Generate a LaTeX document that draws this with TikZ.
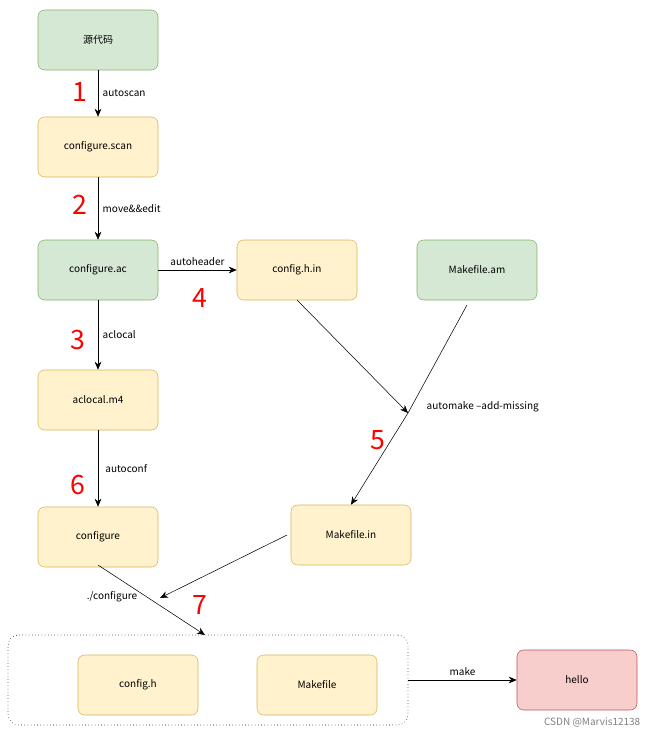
\documentclass[tikz,border=0pt]{standalone}
\usepackage{fontspec}
\setmainfont{Noto Sans CJK SC}
\usetikzlibrary{arrows.meta}
\definecolor{gf}{HTML}{D5E8D4}\definecolor{gd}{HTML}{82B366}
\definecolor{yf}{HTML}{FFF2CC}\definecolor{yd}{HTML}{D6B656}
\definecolor{rf}{HTML}{F8CECC}\definecolor{rd}{HTML}{B85450}
\begin{document}
\begin{tikzpicture}[x=0.75pt,y=-0.75pt,font=\fontsize{7.5}{9}\selectfont,
 box/.style={draw,rounded corners=5pt,minimum width=90pt,minimum height=45pt,inner sep=0pt},
 gbox/.style={box,fill=gf,draw=gd},ybox/.style={box,fill=yf,draw=yd},rbox/.style={box,fill=rf,draw=rd},
 arr/.style={-{Stealth[length=6pt,width=5pt]},black},
 num/.style={text=red,font=\fontsize{20}{20}\selectfont}]
\useasboundingbox (0,0) rectangle (657,736);
\node[gbox] (src) at (98,40) {源代码};
\node[ybox] (scan) at (98,147) {configure.scan};
\node[gbox] (ac) at (98,270) {configure.ac};
\node[ybox] (hin) at (297,270) {config.h.in};
\node[gbox] (am) at (477,270) {Makefile.am};
\node[ybox] (m4) at (98,400) {aclocal.m4};
\node[ybox] (conf) at (98,537) {configure};
\node[ybox] (min) at (351,535) {Makefile.in};
\node[draw,dotted,rounded corners=8pt,minimum width=300pt,minimum height=67.5pt] (cont) at (208,680) {};
\node[ybox] (ch) at (138,685) {config.h};
\node[ybox] (mk) at (317,685) {Makefile};
\node[rbox] (hello) at (577,680) {hello};
\coordinate (mp) at (408,413);
\draw[arr] (src) -- node[right]{autoscan} (scan);
\draw[arr] (scan) -- node[right]{move\&\&edit} (ac);
\draw[arr] (ac) -- node[above]{autoheader} (hin);
\draw[arr] (ac) -- node[right]{aclocal} (m4);
\draw[arr] (m4) -- node[right,xshift=2pt]{autoconf} (conf);
\draw[arr] (297,300) -- (mp);
\draw (467,305) -- (mp);
\draw[arr] (mp) -- (min.north);
\node[anchor=west] (am2) at (422,407) {automake --add-missing};
\draw[arr] (287,535) -- (160,598);
\draw[arr] (98,565) -- (205,635);
\node (cf) at (112,597) {./configure};
\draw[arr] (cont.east) -- node[above]{make} (hello);
\node[num] (n1) at (80,92) {1};
\node[num] (n2) at (80,205) {2};
\node[num] (n3) at (78,340) {3};
\node[num] (n4) at (200,298) {4};
\node[num] (n5) at (378,440) {5};
\node[num] (n6) at (78,485) {6};
\node[num] (n7) at (200,605) {7};
\node[anchor=south east,text=gray] (csdn) at (645,732) {CSDN @Marvis12138};
\end{tikzpicture}
\end{document}
